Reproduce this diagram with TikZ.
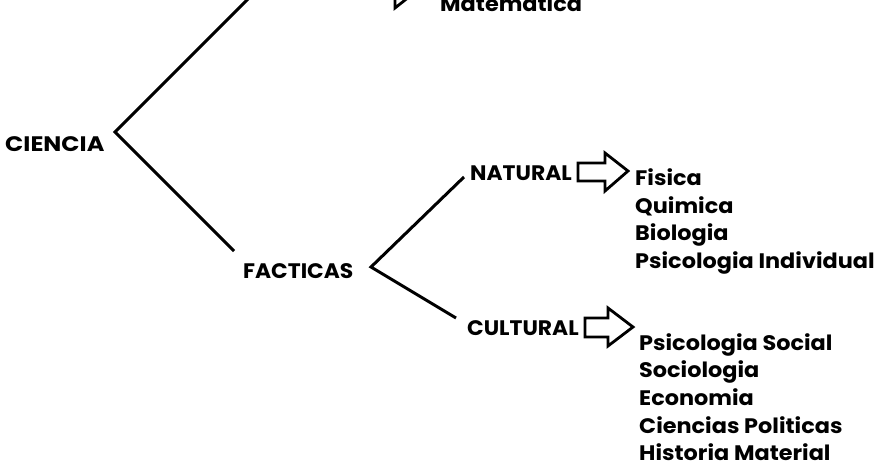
\documentclass[tikz,border=0pt]{standalone}
\usepackage{fontspec}
\setmainfont{Poppins}[FakeStretch=1.065]
\newfontfamily\capsfont{Poppins}[FakeStretch=1.04]
\newfontfamily\widecapsfont{Poppins}[FakeStretch=1.14]
\begin{document}
\begin{tikzpicture}[x=1pt,y=-1pt,
  lbl/.style={anchor=base west,inner sep=0pt,font=\fontsize{21}{25}\selectfont\bfseries},
  caplbl/.style={lbl,font=\fontsize{21}{25}\selectfont\capsfont\bfseries},
  widelbl/.style={lbl,font=\fontsize{21}{25}\selectfont\widecapsfont\bfseries},
  branch/.style={line width=3pt,line cap=butt},
  bigarrow/.style={draw,line width=2.8pt,line join=miter,fill=white}]
\useasboundingbox (0,0) rectangle (877,460);
\clip (0,0) rectangle (877,460);
% labels
\node[widelbl] (ciencia) at (5,151) {CIENCIA};
\node[caplbl] (facticas) at (243,278) {FACTICAS};
\node[caplbl] (natural) at (470,180) {NATURAL};
\node[caplbl] (cultural) at (467,335) {CULTURAL};
\node[lbl] (mate) at (440,12) {Matematica};
\node[lbl] (fis) at (635,185) {Fisica};
\node[lbl] (qui) at (635,213) {Quimica};
\node[lbl] (bio) at (635,240) {Biologia};
\node[lbl] (psi) at (635,268) {Psicologia Individual};
\node[lbl] (psis) at (639,350) {Psicologia Social};
\node[lbl] (soc) at (639,377) {Sociologia};
\node[lbl] (eco) at (639,405) {Economia};
\node[lbl] (cpol) at (639,433) {Ciencias Politicas};
\node[lbl] (hist) at (639,460) {Historia Material};
% branch points
\coordinate (v1) at (115,132);
\coordinate (top) at (248,-1);
\coordinate (fend) at (234,251);
\coordinate (v2) at (371,267);
\coordinate (nend) at (464,177);
\coordinate (cend) at (456,318);
\draw[branch] (top) -- (v1) -- (fend);
\draw[branch] (nend) -- (v2) -- (cend);
% hollow arrows
\draw[bigarrow] (578,163) -- (605,163) -- (605,153) -- (628,171) -- (605,191) -- (605,181) -- (578,181) -- cycle;
\draw[bigarrow] (585,318) -- (608,318) -- (608,308) -- (633,327) -- (608,346) -- (608,337) -- (585,337) -- cycle;
\draw[bigarrow] (372,-20) -- (395,-20) -- (395,-30) -- (419,-11) -- (395,8) -- (395,-2) -- (372,-2) -- cycle;
\end{tikzpicture}
\end{document}
